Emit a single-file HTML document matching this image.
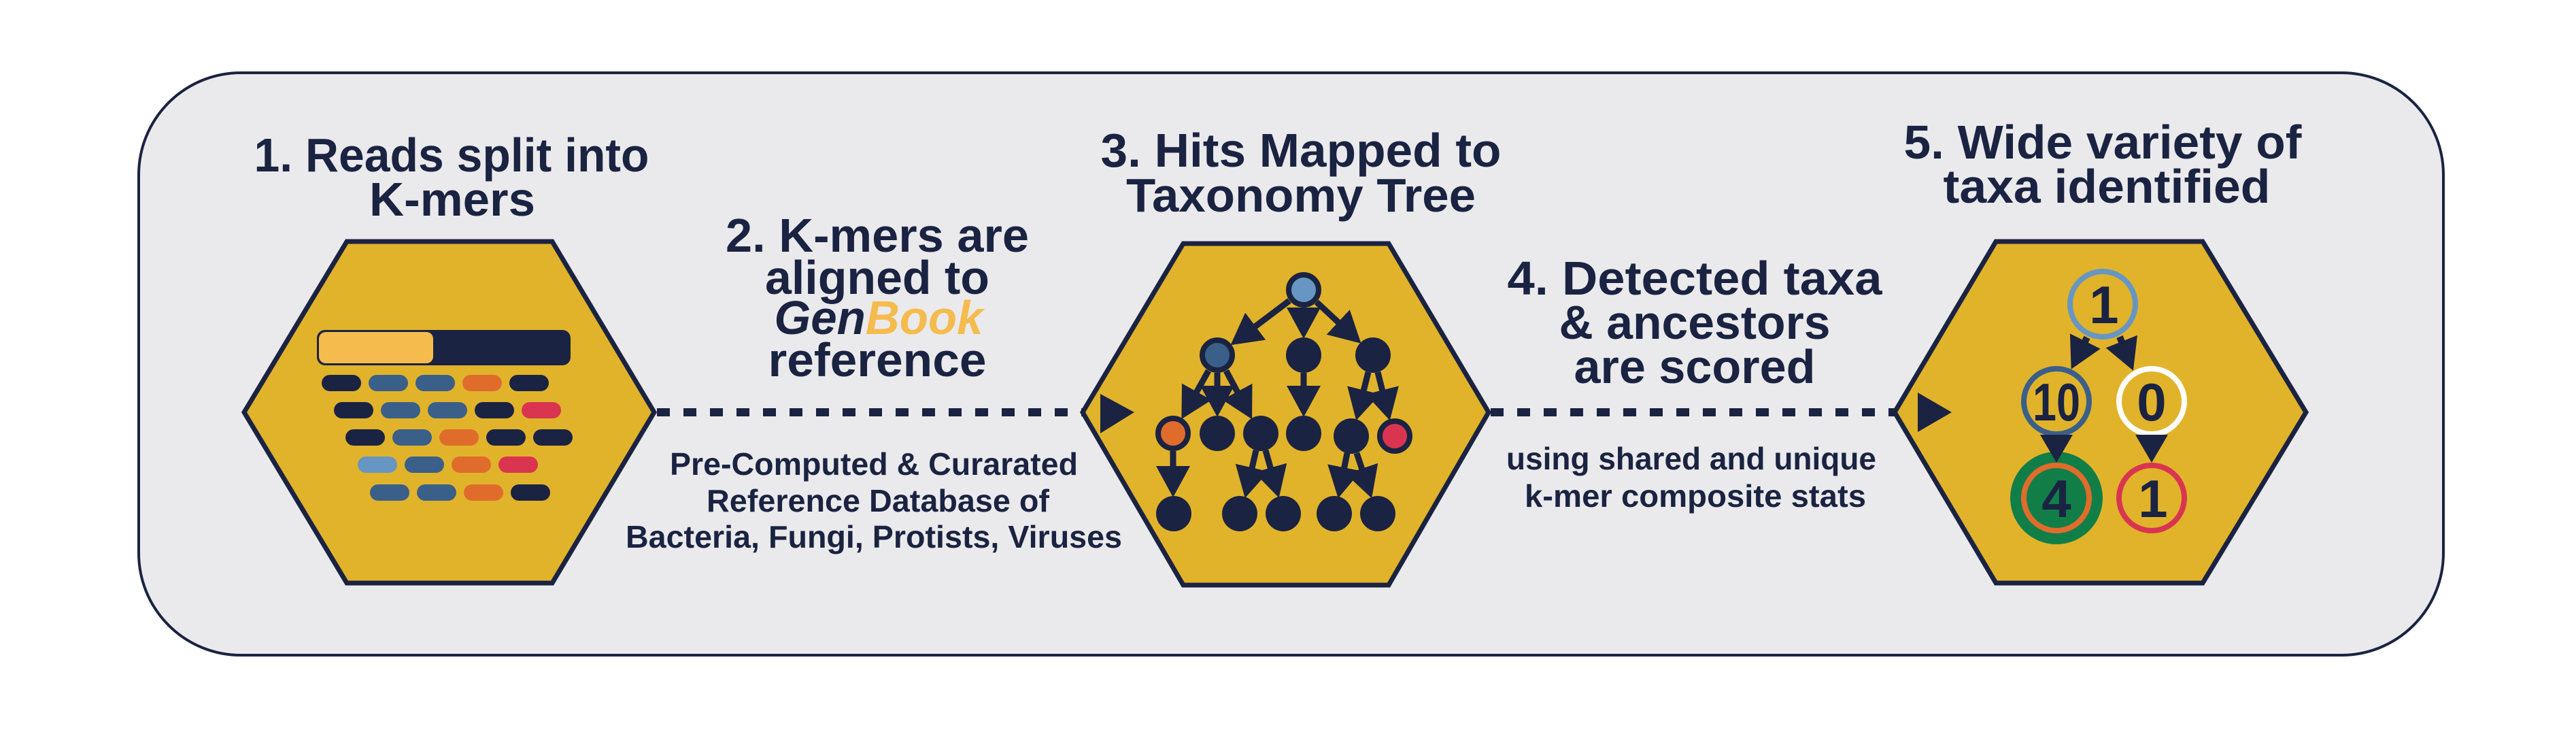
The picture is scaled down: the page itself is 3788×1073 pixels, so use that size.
<!DOCTYPE html>
<html><head><meta charset="utf-8"><style>
html,body{margin:0;padding:0;background:#fff;}
svg{display:block;}
text{font-family:"Liberation Sans",sans-serif;font-weight:bold;fill:#1b2342;}
</style></head><body>
<svg width="3788" height="1073" viewBox="0 0 3788 1073" xmlns="http://www.w3.org/2000/svg">
<defs>
<marker id="ah" markerUnits="userSpaceOnUse" markerWidth="50" markerHeight="52" refX="14" refY="25" orient="auto">
<path d="M0,0 L46,25 L0,50 z" fill="#1b2342"/>
</marker>
</defs>
<rect x="0" y="0" width="3788" height="1073" fill="#ffffff"/>
<rect x="204" y="107" width="3389" height="856" rx="150" ry="150" fill="#eaeaec" stroke="#1b2342" stroke-width="4"/>

<line x1="966" y1="606" x2="1592" y2="606" stroke="#1b2342" stroke-width="12" stroke-dasharray="19 20"/>
<line x1="2192" y1="606" x2="2786" y2="606" stroke="#1b2342" stroke-width="12" stroke-dasharray="19 20"/>

<polygon points="510,355 812,355 962,606 812,857 510,857 359,606" fill="#e1b32b" stroke="#1b2342" stroke-width="7"/>
<polygon points="1740,358 2042,358 2189,606 2042,860 1740,860 1592,606" fill="#e1b32b" stroke="#1b2342" stroke-width="7"/>
<polygon points="2935,355 3239,355 3391,606 3239,857 2935,857 2786,606" fill="#e1b32b" stroke="#1b2342" stroke-width="7"/>

<polygon points="1618,579 1618,637 1668,606" fill="#1b2342"/>
<polygon points="2820,577 2820,635 2870,606" fill="#1b2342"/>

<rect x="466" y="485" width="373" height="52" rx="12" fill="#1b2342"/>
<rect x="469" y="488" width="168" height="46" rx="10" fill="#f5bb4d"/>
<g>
<rect x="473" y="551" width="58" height="24" rx="12" fill="#1b2342"/>
<rect x="542" y="551" width="58" height="24" rx="12" fill="#3a5f89"/>
<rect x="611" y="551" width="58" height="24" rx="12" fill="#3a5f89"/>
<rect x="680" y="551" width="58" height="24" rx="12" fill="#e06c2c"/>
<rect x="749" y="551" width="58" height="24" rx="12" fill="#1b2342"/>

<rect x="491" y="591" width="58" height="24" rx="12" fill="#1b2342"/>
<rect x="560" y="591" width="58" height="24" rx="12" fill="#3a5f89"/>
<rect x="629" y="591" width="58" height="24" rx="12" fill="#3a5f89"/>
<rect x="698" y="591" width="58" height="24" rx="12" fill="#1b2342"/>
<rect x="767" y="591" width="58" height="24" rx="12" fill="#d93551"/>

<rect x="508" y="631" width="58" height="24" rx="12" fill="#1b2342"/>
<rect x="577" y="631" width="58" height="24" rx="12" fill="#3a5f89"/>
<rect x="646" y="631" width="58" height="24" rx="12" fill="#e06c2c"/>
<rect x="715" y="631" width="58" height="24" rx="12" fill="#1b2342"/>
<rect x="784" y="631" width="58" height="24" rx="12" fill="#1b2342"/>

<rect x="526" y="671" width="58" height="24" rx="12" fill="#6796c2"/>
<rect x="595" y="671" width="58" height="24" rx="12" fill="#3a5f89"/>
<rect x="664" y="671" width="58" height="24" rx="12" fill="#e06c2c"/>
<rect x="733" y="671" width="58" height="24" rx="12" fill="#d93551"/>

<rect x="544" y="712" width="58" height="24" rx="12" fill="#3a5f89"/>
<rect x="613" y="712" width="58" height="24" rx="12" fill="#3a5f89"/>
<rect x="682" y="712" width="58" height="24" rx="12" fill="#e06c2c"/>
<rect x="751" y="712" width="58" height="24" rx="12" fill="#1b2342"/>
</g>

<g stroke="#1b2342" stroke-width="9" marker-end="url(#ah)">
<line x1="1896" y1="442" x2="1835" y2="488"/>
<line x1="1917" y1="452" x2="1917" y2="466"/>
<line x1="1936" y1="444" x2="1978" y2="483"/>
<line x1="1777" y1="545" x2="1753" y2="588"/>
<line x1="1790" y1="548" x2="1790" y2="581"/>
<line x1="1803" y1="545" x2="1826" y2="588"/>
<line x1="1917" y1="548" x2="1917" y2="581"/>
<line x1="2012" y1="547" x2="2002" y2="587"/>
<line x1="2026" y1="547" x2="2036" y2="587"/>
<line x1="1725" y1="663" x2="1725" y2="699"/>
<line x1="1847" y1="662" x2="1838" y2="701"/>
<line x1="1861" y1="662" x2="1872" y2="701"/>
<line x1="1981" y1="666" x2="1974" y2="701"/>
<line x1="1995" y1="666" x2="2007" y2="702"/>
</g>
<g fill="#1b2342">
<circle cx="1917" cy="426" r="22" fill="#6796c2" stroke="#1b2342" stroke-width="8"/>
<circle cx="1790" cy="522" r="22" fill="#3a5f89" stroke="#1b2342" stroke-width="8"/>
<circle cx="1917" cy="522" r="26"/>
<circle cx="2019" cy="522" r="26"/>
<circle cx="1725" cy="637" r="22" fill="#e06c2c" stroke="#1b2342" stroke-width="8"/>
<circle cx="1790" cy="637" r="26"/>
<circle cx="1854" cy="637" r="26"/>
<circle cx="1917" cy="637" r="26"/>
<circle cx="1987" cy="641" r="26"/>
<circle cx="2051" cy="641" r="22" fill="#d93551" stroke="#1b2342" stroke-width="8"/>
<circle cx="1726" cy="755" r="26"/>
<circle cx="1823" cy="755" r="26"/>
<circle cx="1887" cy="755" r="26"/>
<circle cx="1962" cy="755" r="26"/>
<circle cx="2026" cy="755" r="26"/>
</g>

<g stroke="#1b2342" stroke-width="10" marker-end="url(#ah)">
<line x1="3069" y1="496" x2="3060" y2="514"/>
<line x1="3117" y1="495" x2="3125" y2="515"/>
</g>
<circle cx="3092" cy="447" r="48" fill="none" stroke="#6796c2" stroke-width="8"/>
<circle cx="3024" cy="590" r="48" fill="none" stroke="#3a5f89" stroke-width="8"/>
<circle cx="3164" cy="590" r="48" fill="none" stroke="#ffffff" stroke-width="8"/>
<circle cx="3024" cy="732" r="68" fill="#117e48"/>
<circle cx="3024" cy="732" r="48" fill="none" stroke="#e06c2c" stroke-width="8"/>
<circle cx="3164" cy="732" r="48" fill="none" stroke="#d93551" stroke-width="8"/>
<polygon points="3000,639 3048,639 3024,680" fill="#1b2342"/>
<polygon points="3140,639 3188,639 3164,680" fill="#1b2342"/>
<g font-size="78" text-anchor="middle">
<text x="3094" y="475">1</text>
<text x="3024" y="618" textLength="70" lengthAdjust="spacingAndGlyphs">10</text>
<text x="3164" y="618">0</text>
<text x="3024" y="760">4</text>
<text x="3166" y="760">1</text>
</g>

<g font-size="70" text-anchor="middle">
<text x="664" y="252" textLength="581" lengthAdjust="spacingAndGlyphs">1. Reads split into</text>
<text x="665" y="317" textLength="244" lengthAdjust="spacingAndGlyphs">K-mers</text>

<text x="1913" y="245" textLength="589" lengthAdjust="spacingAndGlyphs">3. Hits Mapped to</text>
<text x="1913" y="311" textLength="514" lengthAdjust="spacingAndGlyphs">Taxonomy Tree</text>

<text x="3092" y="233" textLength="585" lengthAdjust="spacingAndGlyphs">5. Wide variety of</text>
<text x="3098" y="298" textLength="481" lengthAdjust="spacingAndGlyphs">taxa identified</text>

<text x="1290" y="370" textLength="446" lengthAdjust="spacingAndGlyphs">2. K-mers are</text>
<text x="1290" y="432" textLength="330" lengthAdjust="spacingAndGlyphs">aligned to</text>
<text x="1292" y="491" font-style="italic" textLength="307" lengthAdjust="spacingAndGlyphs">Gen<tspan style="fill:#f5bb4d">Book</tspan></text>
<text x="1290" y="553" textLength="321" lengthAdjust="spacingAndGlyphs">reference</text>

<text x="2492" y="433" textLength="551" lengthAdjust="spacingAndGlyphs">4. Detected taxa</text>
<text x="2492" y="498" textLength="399" lengthAdjust="spacingAndGlyphs">&amp; ancestors</text>
<text x="2492" y="563" textLength="355" lengthAdjust="spacingAndGlyphs">are scored</text>
</g>
<g font-size="46" text-anchor="middle">
<text x="1285" y="698" textLength="600" lengthAdjust="spacingAndGlyphs">Pre-Computed &amp; Curarated</text>
<text x="1291" y="752" textLength="504" lengthAdjust="spacingAndGlyphs">Reference Database of</text>
<text x="1285" y="805" textLength="730" lengthAdjust="spacingAndGlyphs">Bacteria, Fungi, Protists, Viruses</text>
<text x="2487" y="690" textLength="544" lengthAdjust="spacingAndGlyphs">using shared and unique</text>
<text x="2493" y="745" textLength="502" lengthAdjust="spacingAndGlyphs">k-mer composite stats</text>
</g>
</svg>
</body></html>
